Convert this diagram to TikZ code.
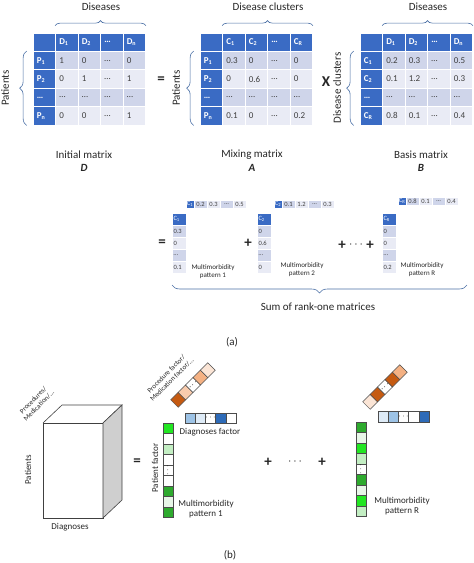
\documentclass[tikz,border=0pt]{standalone}
\usepackage{fontspec}
\setmainfont{Carlito}
\usetikzlibrary{decorations.pathreplacing,positioning}

\definecolor{hdblue}{HTML}{3A6BC4}
\definecolor{rowa}{HTML}{CFD5EA}
\definecolor{rowb}{HTML}{E9EBF5}
\definecolor{bodytext}{HTML}{404040}
\definecolor{bracecol}{HTML}{4A6FA5}
\definecolor{gbright}{HTML}{22E622}
\definecolor{glight}{HTML}{C3EEC3}
\definecolor{gmid}{HTML}{2EAA2E}
\definecolor{gpale}{HTML}{E8F6E8}
\definecolor{blight}{HTML}{9DC3E6}
\definecolor{bpale}{HTML}{DEEBF7}
\definecolor{bdark}{HTML}{2E6BB8}
\definecolor{odark}{HTML}{C55A11}
\definecolor{opeach}{HTML}{F8CBAD}
\definecolor{omid}{HTML}{F4B183}
\definecolor{opale}{HTML}{FBE5D6}
\definecolor{cubegray}{HTML}{CFCFCF}

\newcommand{\celldots}{\textbf{$\cdots$}}

% table with header row and header column
\newcommand{\datatable}[4]{%
 \foreach \rowlist [count=\ri from 0] in {#4} {
  \foreach \entry [count=\ci from 0] in \rowlist {
   \ifnum\ri=0 \def\cellfill{hdblue}\def\cellink{white}\def\cellfont{\fontsize{9}{10}\selectfont\bfseries}%
   \else\ifnum\ci=0 \def\cellfill{hdblue}\def\cellink{white}\def\cellfont{\fontsize{9}{10}\selectfont\bfseries}%
   \else\ifodd\ri \def\cellfill{rowa}\else\def\cellfill{rowb}\fi
    \def\cellink{bodytext}\def\cellfont{\fontsize{9}{10}\selectfont}\fi\fi
   \node[cell, fill=\cellfill, text=\cellink, font=\cellfont] (#1-\ri-\ci)
    at (#2+11.25+\ci*22.5, #3+9.2+\ri*18.4) {\entry};
  }
 }%
}

% one rank-one term: column vector and row vector
\newcommand{\rankone}[7]{%
 \foreach \entry [count=\ci from 0] in {#6} {
  \ifnum\ci=0 \def\cellfill{hdblue}\def\cellink{white}\else
   \ifodd\ci \def\cellfill{rowa}\else\def\cellfill{rowb}\fi\def\cellink{bodytext}\fi
  \node[vcell, fill=\cellfill, text=\cellink] (#1-c\ci) at (#2+7, #3+6+\ci*12) {\entry};
 }
 \foreach \entry [count=\ci from 0] in {#7} {
  \ifnum\ci=0 \def\cellfill{hdblue}\def\cellink{white}\else
   \ifodd\ci \def\cellfill{rowa}\else\def\cellfill{rowb}\fi\def\cellink{bodytext}\fi
  \pgfmathsetmacro\hx{\ci==0 ? #4+4 : #4+1.5+\ci*13}
  \pgfmathsetmacro\hw{\ci==0 ? 8 : 13}
  \node[hcell, minimum width=\hw pt, fill=\cellfill, text=\cellink] (#1-r\ci) at (\hx, #5+4) {\entry};
 }%
}

\begin{document}
\begin{tikzpicture}[x=1pt, y=-1pt,
 cell/.style={draw=white, line width=0.7pt, minimum height=18.4pt, text width=15pt,
  inner xsep=3.75pt, inner ysep=0pt, align=left},
 vcell/.style={draw=white, line width=0.5pt, minimum height=12pt, text width=11pt,
  inner xsep=1.5pt, inner ysep=0pt, align=left, font=\fontsize{6.5}{7}\selectfont},
 hcell/.style={draw=white, line width=0.5pt, minimum height=8pt, inner sep=0pt,
  font=\fontsize{6.5}{7}\selectfont},
 fcell/.style={draw=black!70, line width=0.5pt, minimum size=10.5pt, inner sep=0pt,
  font=\fontsize{8}{8}\selectfont},
 brace/.style={decorate, decoration={brace, amplitude=5pt}, draw=bracecol, line width=0.6pt},
 lbl/.style={font=\fontsize{11}{13}\selectfont, text=black!85},
 note/.style={font=\fontsize{7}{8}\selectfont, align=center, text=black!85},
 blbl/.style={font=\fontsize{9}{10.5}\selectfont, align=center, text=black!85},
 op/.style={font=\fontsize{15}{15}\selectfont\bfseries, text=black!85},
 cubeline/.style={draw=black!75, line width=0.6pt}]
\useasboundingbox (0,0) rectangle (474,563);

% (a) factorisation
\datatable{D}{33}{33}{{{},D\textsubscript{1},D\textsubscript{2},\ldots,D\textsubscript{n}},
 {P\textsubscript{1},1,0,\ldots,0},{P\textsubscript{2},0,1,\ldots,1},
 {\ldots,\ldots,\ldots,\ldots,\ldots},{P\textsubscript{n},0,0,\ldots,1}}
\datatable{A}{200}{33}{{{},C\textsubscript{1},C\textsubscript{2},\ldots,C\textsubscript{R}},
 {P\textsubscript{1},0.3,0,\ldots,0},{P\textsubscript{2},0,0.6,\ldots,0},
 {\ldots,\ldots,\ldots,\ldots,\ldots},{P\textsubscript{n},0.1,0,\ldots,0.2}}
\datatable{B}{360}{33}{{{},D\textsubscript{1},D\textsubscript{2},\ldots,D\textsubscript{n}},
 {C\textsubscript{1},0.2,0.3,\ldots,0.5},{C\textsubscript{2},0.1,1.2,\ldots,0.3},
 {\ldots,\ldots,\ldots,\ldots,\ldots},{C\textsubscript{R},0.8,0.1,\ldots,0.4}}

\draw[brace] ([yshift=7pt]D-0-1.north west) -- ([yshift=7pt]D-0-4.north east);
\draw[brace] ([yshift=7pt]A-0-1.north west) -- ([yshift=7pt]A-0-4.north east);
\draw[brace] ([yshift=7pt]B-0-1.north west) -- ([yshift=7pt]B-0-4.north east);
\draw[brace, decoration={amplitude=7pt}] ([xshift=-6pt]D-4-0.south west) -- ([xshift=-6pt]D-1-0.north west);
\draw[brace, decoration={amplitude=7pt}] ([xshift=-6pt]A-4-0.south west) -- ([xshift=-6pt]A-1-0.north west);
\draw[brace, decoration={amplitude=7pt}] ([xshift=-6pt]B-4-0.south west) -- ([xshift=-6pt]B-1-0.north west);

\node[lbl] (D-top) at (101,7) {Diseases};
\node[lbl] (A-top) at (268,7) {Disease clusters};
\node[lbl] (B-top) at (428,7) {Diseases};
\node[lbl, rotate=90] (D-side) at (5,88) {Patients};
\node[lbl, rotate=90] (A-side) at (176,88) {Patients};
\node[lbl, rotate=90] (B-side) at (337,88) {Disease clusters};
\node[op] (eq-top) at (161,80) {=};
\node[op] (times) at (326,82) {X};

\node[lbl] (D-name) at (84,155) {Initial matrix};
\node[lbl] (A-name) at (252,155) {Mixing matrix};
\node[lbl] (B-name) at (421,155) {Basis matrix};
\node[lbl, font=\fontsize{11}{13}\selectfont\bfseries\itshape] (D-sym) at (84,168) {D};
\node[lbl, font=\fontsize{11}{13}\selectfont\bfseries\itshape] (A-sym) at (252,168) {A};
\node[lbl, font=\fontsize{11}{13}\selectfont\bfseries\itshape] (B-sym) at (421,168) {B};

% (a) sum of rank-one matrices
\rankone{T1}{172}{213}{186}{200}{C\textsubscript{1},0.3,0,\ldots,0.1}{C\textsubscript{1},0.2,0.3,\ldots,0.5}
\rankone{T2}{257}{213}{274}{200}{C\textsubscript{2},0,0.6,\ldots,0}{C\textsubscript{2},0.1,1.2,\ldots,0.3}
\rankone{TR}{382}{213}{398}{197}{C\textsubscript{R},0,0,\ldots,0.2}{C\textsubscript{R},0.8,0.1,\ldots,0.4}
\node[note] (T1-name) at (213,272) {Multimorbidity\\pattern 1};
\node[note] (T2-name) at (302,270) {Multimorbidity\\pattern 2};
\node[note] (TR-name) at (422,270) {Multimorbidity\\pattern R};
\node[op] (eq-sum) at (162,243) {=};
\node[op] (plus-a1) at (248,243) {+};
\node[op] (plus-a2) at (342,245) {+};
\node[op, font=\fontsize{12}{12}\selectfont] (dots-a) at (356,245) {$\cdots$};
\node[op] (plus-a3) at (370,245) {+};

\draw[brace, decoration={amplitude=8pt}] (467,285) -- (172,285);
\node[lbl] (sum-name) at (318,307) {Sum of rank-one matrices};
\node[lbl] (cap-a) at (232,342) {(a)};

% (b) tensor
\draw[cubeline] (43,423) rectangle (103,518);
\draw[cubeline] (43,423) -- (62,405) -- (122,405) -- (103,423);
\draw[cubeline, fill=cubegray] (103,423) -- (122,405) -- (122,500) -- (103,518) -- cycle;
\node[note, rotate=45] (cube-top) at (36,403) {Procedures/\\Medication/\ldots};
\node[blbl, rotate=90] (cube-side) at (28,470) {Patients};
\node[blbl] (cube-bottom) at (70,527) {Diagnoses};
\node[op] (eq-b) at (137,462) {=};

% pattern 1
\foreach \fc/\ft [count=\i from 0] in {gbright/{},white/{},glight/{},white/{},white/\celldots,white/{},gmid/{},gpale/{},gmid/{}}
 \node[fcell, rotate=90, fill=\fc] (P1-\i) at (168,428.25+\i*10.5) {\ft};
\foreach \fc/\ft [count=\i from 0] in {blight/{},bpale/{},white/\celldots,bdark/{},white/{}}
 \node[fcell, minimum width=10.2pt, fill=\fc] (G1-\i) at (190.1+\i*10.2,418) {\ft};
\foreach \fc/\ft [count=\i from 0] in {odark/{},opeach/{},white/\celldots,omid/{},opale/{}}
 \node[fcell, rotate=45, fill=\fc] (M1-\i) at (193+\i*7.42-14.84,385-\i*7.42+14.84) {\ft};
\node[note, rotate=45] (M1-name) at (169,377) {Procedure factor/\\Medication factor/\ldots};
\node[blbl] (G1-name) at (210,432) {Diagnoses factor};
\node[blbl, rotate=90] (P1-name) at (155,468) {Patient factor};
\node[blbl] (B1-name) at (206,509) {Multimorbidity\\pattern 1};

\node[op] (plus-b1) at (268,462) {+};
\node[op, font=\fontsize{12}{12}\selectfont] (dots-b) at (295,462) {$\cdots$};
\node[op] (plus-b2) at (322,462) {+};

% pattern R
\foreach \fc/\ft [count=\i from 0] in {gmid/{},gpale/{},gbright/{},glight/{},white/\celldots,gmid/{},gpale/{},gbright/{},glight/{}}
 \node[fcell, rotate=90, fill=\fc] (PR-\i) at (361,427.25+\i*10.5) {\ft};
\foreach \fc/\ft [count=\i from 0] in {bpale/{},blight/{},white/\celldots,white/{},bdark/{}}
 \node[fcell, minimum width=10.2pt, fill=\fc] (GR-\i) at (383.1+\i*10.2,416.5) {\ft};
\foreach \fc/\ft [count=\i from 0] in {opale/{},odark/{},white/\celldots,odark/{},omid/{}}
 \node[fcell, rotate=45, fill=\fc] (MR-\i) at (385+\i*7.42-14.84,387-\i*7.42+14.84) {\ft};
\node[blbl] (BR-name) at (402,506) {Multimorbidity\\pattern R};

\node[lbl] (cap-b) at (230,555) {(b)};
\end{tikzpicture}
\end{document}
